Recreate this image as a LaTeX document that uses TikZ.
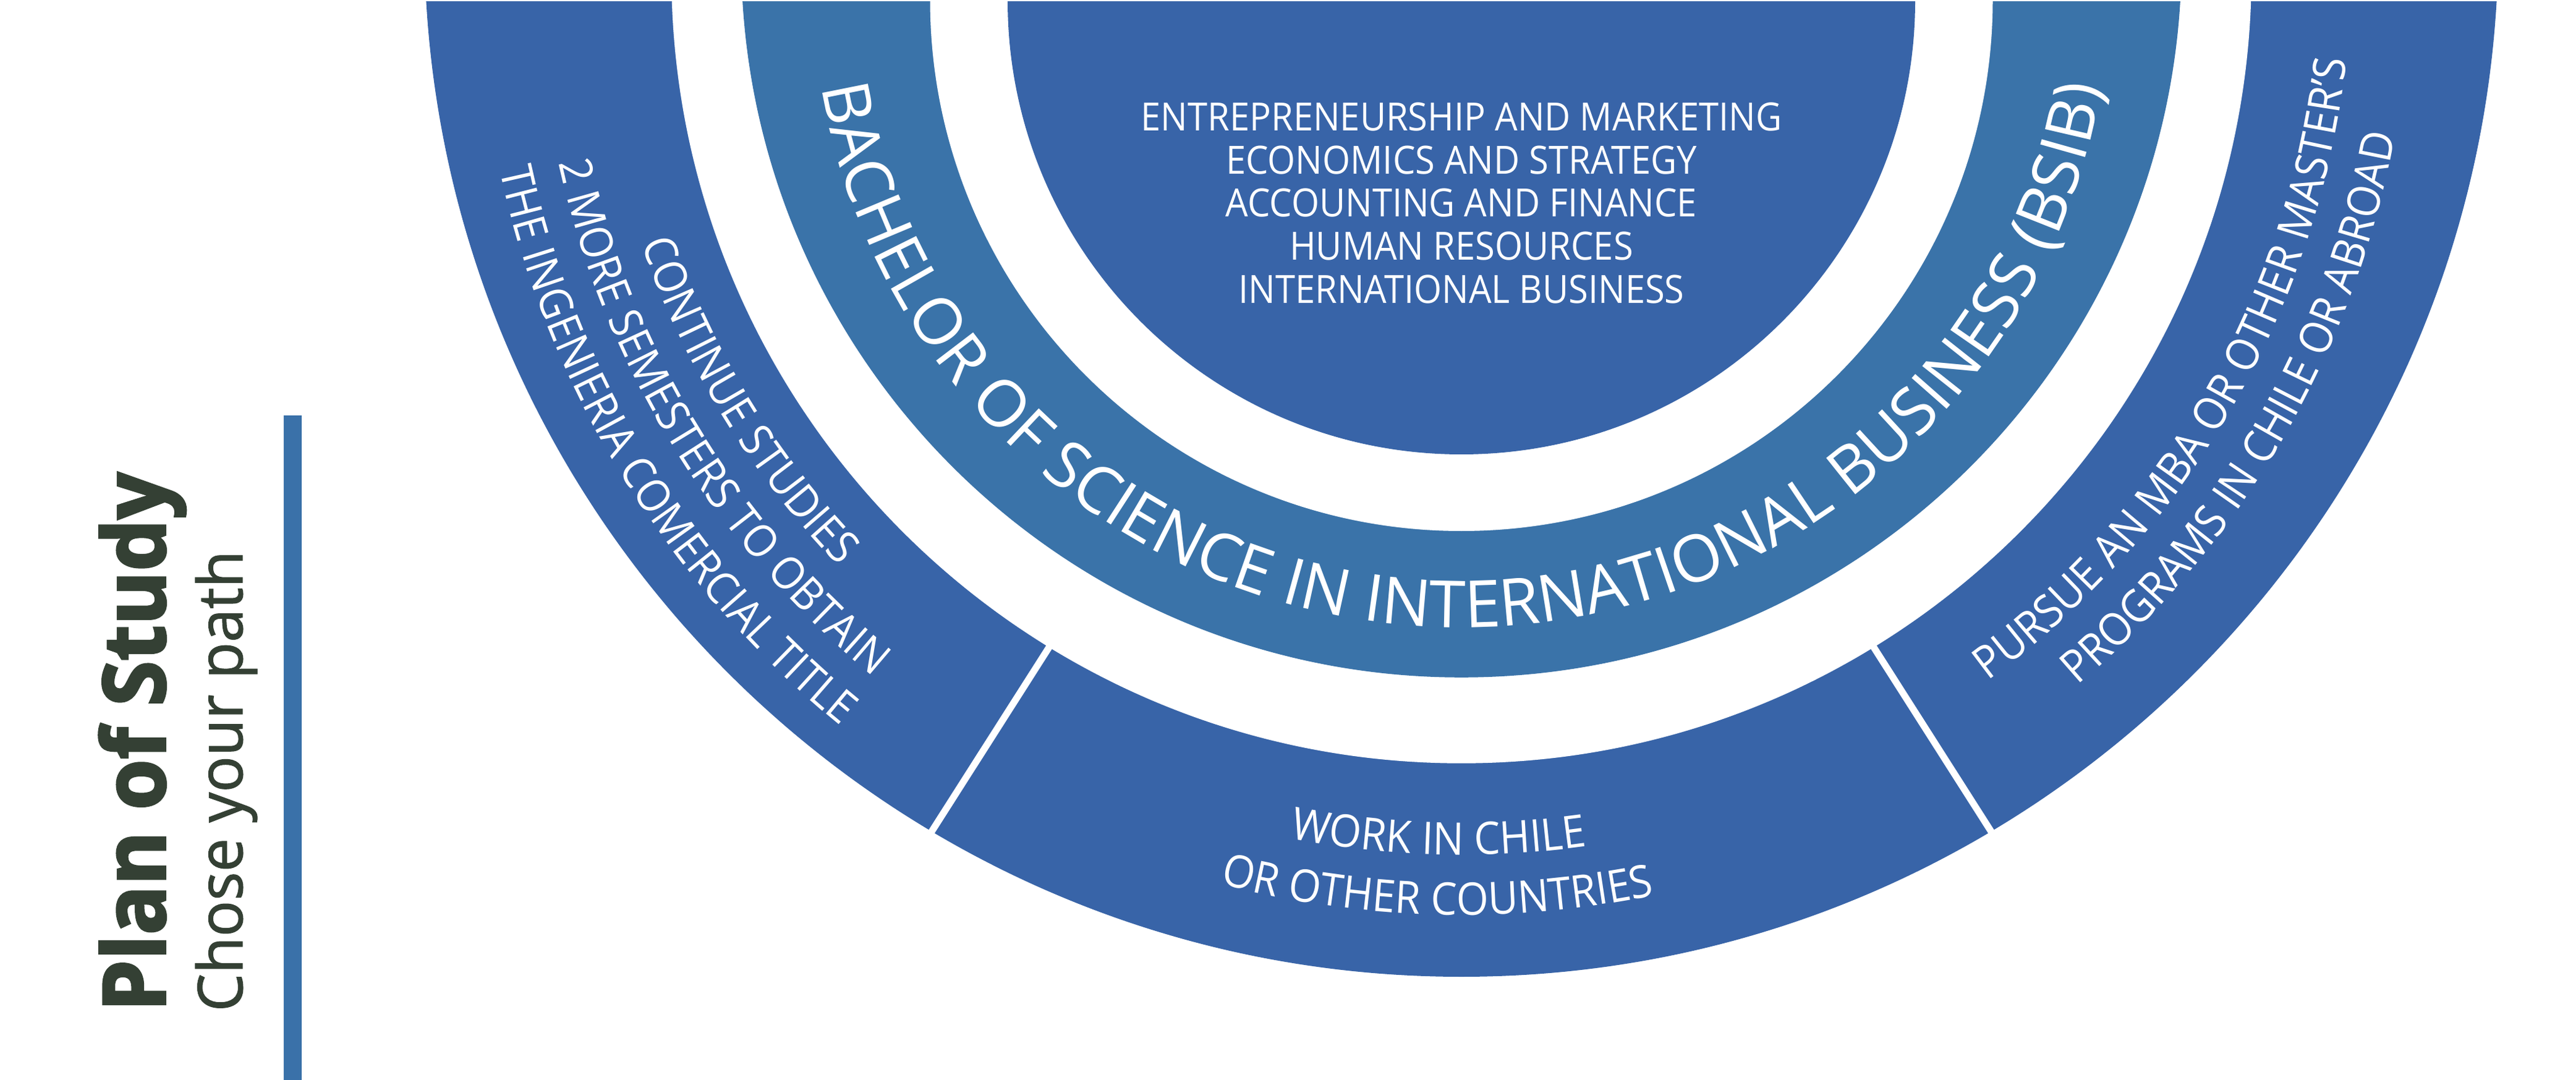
\documentclass[tikz,border=0pt]{standalone}
\usepackage{fontspec}
\setmainfont{Open Sans}
\newfontfamily\ringfont[FakeStretch=0.92]{Open Sans}
\newfontfamily\headfont[FakeStretch=0.95,FakeBold=2.5]{Open Sans}
\newfontfamily\subfont[FakeStretch=0.97,FakeBold=1.2]{Open Sans}
\usetikzlibrary{decorations.text}
\definecolor{ringdark}{HTML}{3864A8}
\definecolor{ringlight}{HTML}{3A73A9}
\definecolor{headgray}{HTML}{344034}
\definecolor{barblue}{HTML}{3A71A9}
\newcommand{\outerfmt}{\ringfont\fontsize{20.7}{20.7}\selectfont}
\newcommand{\bsibfmt}{\fontsize{30}{30}\selectfont}
\tikzset{
	ring/.style={fill=ringdark},
	band/.style={fill=ringlight},
	gap/.style={fill=white},
	cut/.style={draw=white, line width=0.11cm},
	arctext/.style={decorate, decoration={text along path, text align=center, text color=white, text={#1}}},
	majors/.style={text=white, align=center, inner sep=0pt, font=\ringfont\fontsize{17.9}{19.9}\selectfont},
	headline/.style={text=headgray, inner sep=0pt, rotate=90, anchor=base west}
}

\begin{document}
\begin{tikzpicture}
	\useasboundingbox (0,0) rectangle (41.67,-17.47);
	
	\begin{scope}
		\clip (0,-0.03) rectangle (41.67,-17.47);
		\fill[ring] (23.64,0.975) circle[radius=16.775];
		\fill[gap] (23.64,0.433) circle[radius=12.78];
		\fill[band] (23.64,0.692) circle[radius=11.65];
		\fill[gap] (23.64,0.005) circle[radius=8.595];
		\fill[ring] (23.64,-0.01) circle[radius=7.34];
		
		\coordinate (O) at (23.64,0);
		\draw[cut] ([shift={(-122.5:12)}]O) -- ([shift={(-122.5:16.5)}]O);
		\draw[cut] ([shift={(-57.5:12)}]O) -- ([shift={(-57.5:16.5)}]O);
	\end{scope}
	
	\node[majors] (majors) at (23.64,-3.285) {ENTREPRENEURSHIP AND MARKETING\\ECONOMICS AND STRATEGY\\ACCOUNTING AND FINANCE\\HUMAN RESOURCES\\INTERNATIONAL BUSINESS};
	
	\coordinate (B) at (23.64,0.35);
	\path[arctext={|\bsibfmt|BACHELOR OF SCIENCE IN INTERNATIONAL BUSINESS (BSIB)}] ([shift={(182:10.5)}]B) arc[start angle=182, end angle=358, radius=10.5];
	
	\coordinate (P) at (23.64,0.60);
	\path[arctext={|\outerfmt|CONTINUE STUDIES}] ([shift={(181.5:14.02)}]P) arc[start angle=181.5, end angle=241.5, radius=14.02];
	\path[arctext={|\outerfmt|2 MORE SEMESTERS TO OBTAIN}] ([shift={(181.5:14.96)}]P) arc[start angle=181.5, end angle=241.5, radius=14.96];
	\path[arctext={|\outerfmt|THE INGENIERIA COMERCIAL TITLE}] ([shift={(181.5:15.91)}]P) arc[start angle=181.5, end angle=241.5, radius=15.91];
	
	\path[arctext={|\outerfmt|WORK IN CHILE}] ([shift={(240:14.43)}]P) arc[start angle=240, end angle=297, radius=14.43];
	\path[arctext={|\outerfmt|OR OTHER COUNTRIES}] ([shift={(240:15.40)}]P) arc[start angle=240, end angle=297, radius=15.40];
	
	\path[arctext={|\outerfmt|PURSUE AN MBA OR OTHER MASTER’S}] ([shift={(300:14.40)}]P) arc[start angle=300, end angle=360, radius=14.40];
	\path[arctext={|\outerfmt|PROGRAMS IN CHILE OR ABROAD}] ([shift={(300:15.36)}]P) arc[start angle=300, end angle=360, radius=15.36];
	
	\node[headline, font=\headfont\bfseries\fontsize{39.8}{39.8}\selectfont] (plan) at (2.67,-16.37) {Plan of Study};
	\node[headline, font=\subfont\fontsize{28.5}{28.5}\selectfont] (path) at (3.92,-16.37) {Chose your path};
	\fill[barblue] (4.59,-6.72) rectangle (4.88,-17.47);
\end{tikzpicture}
\end{document}
